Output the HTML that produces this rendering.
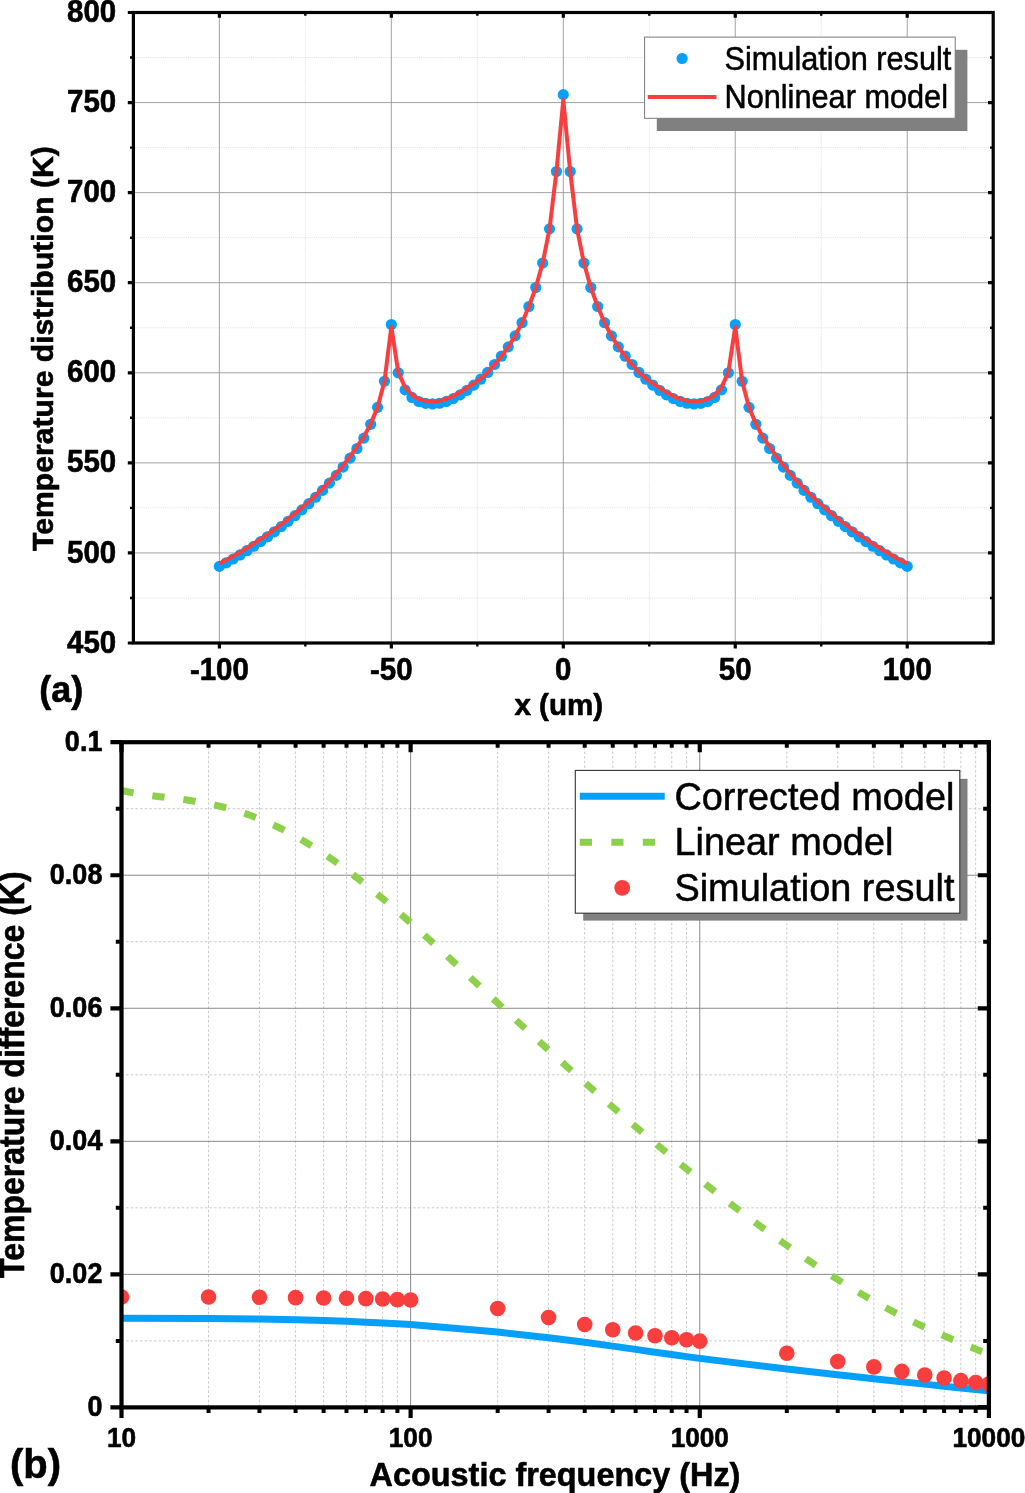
<!DOCTYPE html>
<html lang="en">
<head>
<meta charset="utf-8">
<title>Temperature distribution and temperature difference</title>
<style>html,body{margin:0;padding:0;background:#fff}svg{display:block}</style>
</head>
<body>
<svg width="1025" height="1493" viewBox="0 0 1025 1493" font-family='"Liberation Sans", Arial, Helvetica, sans-serif'>
<rect width="1025" height="1493" fill="#fff"/>
<g id="chart-a">
<path d="M305.36 12.5V643M477.32 12.5V643M649.28 12.5V643M821.24 12.5V643M133.4 597.96H993.2M133.4 507.89H993.2M133.4 417.82H993.2M133.4 327.75H993.2M133.4 237.68H993.2M133.4 147.61H993.2M133.4 57.54H993.2" stroke="#dedede" stroke-width="0.9" stroke-dasharray="1.1 1" fill="none"/>
<path d="M219.38 12.5V643M391.34 12.5V643M563.3 12.5V643M735.26 12.5V643M907.22 12.5V643M133.4 552.93H993.2M133.4 462.86H993.2M133.4 372.79H993.2M133.4 282.71H993.2M133.4 192.64H993.2M133.4 102.57H993.2" stroke="#989898" stroke-width="0.9" fill="none"/>
<g fill="#05a0fa"><circle cx="219.38" cy="566.41" r="5.6"/><circle cx="226.26" cy="562.83" r="5.6"/><circle cx="233.14" cy="558.99" r="5.6"/><circle cx="240.02" cy="554.94" r="5.6"/><circle cx="246.89" cy="550.67" r="5.6"/><circle cx="253.77" cy="546.23" r="5.6"/><circle cx="260.65" cy="541.6" r="5.6"/><circle cx="267.53" cy="536.8" r="5.6"/><circle cx="274.41" cy="531.82" r="5.6"/><circle cx="281.29" cy="526.65" r="5.6"/><circle cx="288.16" cy="521.28" r="5.6"/><circle cx="295.04" cy="515.69" r="5.6"/><circle cx="301.92" cy="509.84" r="5.6"/><circle cx="308.8" cy="503.71" r="5.6"/><circle cx="315.68" cy="497.25" r="5.6"/><circle cx="322.56" cy="490.41" r="5.6"/><circle cx="329.43" cy="483.14" r="5.6"/><circle cx="336.31" cy="475.39" r="5.6"/><circle cx="343.19" cy="467.08" r="5.6"/><circle cx="350.07" cy="458.15" r="5.6"/><circle cx="356.95" cy="448.52" r="5.6"/><circle cx="363.83" cy="438.1" r="5.6"/><circle cx="370.7" cy="424.31" r="5.6"/><circle cx="377.58" cy="407.37" r="5.6"/><circle cx="384.46" cy="381.25" r="5.6"/><circle cx="391.34" cy="324.51" r="5.6"/><circle cx="398.22" cy="372.79" r="5.6"/><circle cx="405.1" cy="389.9" r="5.6"/><circle cx="411.98" cy="397.47" r="5.6"/><circle cx="418.85" cy="401.5" r="5.6"/><circle cx="425.73" cy="403.4" r="5.6"/><circle cx="432.61" cy="403.96" r="5.6"/><circle cx="439.49" cy="403.27" r="5.6"/><circle cx="446.37" cy="401.46" r="5.6"/><circle cx="453.25" cy="398.62" r="5.6"/><circle cx="460.12" cy="394.87" r="5.6"/><circle cx="467" cy="390.32" r="5.6"/><circle cx="473.88" cy="385.06" r="5.6"/><circle cx="480.76" cy="379.22" r="5.6"/><circle cx="487.64" cy="372.43" r="5.6"/><circle cx="494.52" cy="364.5" r="5.6"/><circle cx="501.39" cy="356.21" r="5.6"/><circle cx="508.27" cy="346.85" r="5.6"/><circle cx="515.15" cy="335.86" r="5.6"/><circle cx="522.03" cy="322.71" r="5.6"/><circle cx="528.91" cy="306.49" r="5.6"/><circle cx="535.79" cy="287.58" r="5.6"/><circle cx="542.66" cy="263.08" r="5.6"/><circle cx="549.54" cy="228.85" r="5.6"/><circle cx="556.42" cy="171.57" r="5.6"/><circle cx="563.3" cy="94.65" r="5.6"/><circle cx="570.18" cy="171.57" r="5.6"/><circle cx="577.06" cy="228.85" r="5.6"/><circle cx="583.94" cy="263.08" r="5.6"/><circle cx="590.81" cy="287.58" r="5.6"/><circle cx="597.69" cy="306.49" r="5.6"/><circle cx="604.57" cy="322.71" r="5.6"/><circle cx="611.45" cy="335.86" r="5.6"/><circle cx="618.33" cy="346.85" r="5.6"/><circle cx="625.21" cy="356.21" r="5.6"/><circle cx="632.08" cy="364.5" r="5.6"/><circle cx="638.96" cy="372.43" r="5.6"/><circle cx="645.84" cy="379.22" r="5.6"/><circle cx="652.72" cy="385.06" r="5.6"/><circle cx="659.6" cy="390.32" r="5.6"/><circle cx="666.48" cy="394.87" r="5.6"/><circle cx="673.35" cy="398.62" r="5.6"/><circle cx="680.23" cy="401.46" r="5.6"/><circle cx="687.11" cy="403.27" r="5.6"/><circle cx="693.99" cy="403.96" r="5.6"/><circle cx="700.87" cy="403.4" r="5.6"/><circle cx="707.75" cy="401.5" r="5.6"/><circle cx="714.62" cy="397.47" r="5.6"/><circle cx="721.5" cy="389.9" r="5.6"/><circle cx="728.38" cy="372.79" r="5.6"/><circle cx="735.26" cy="324.51" r="5.6"/><circle cx="742.14" cy="381.25" r="5.6"/><circle cx="749.02" cy="407.37" r="5.6"/><circle cx="755.9" cy="424.31" r="5.6"/><circle cx="762.77" cy="438.1" r="5.6"/><circle cx="769.65" cy="448.52" r="5.6"/><circle cx="776.53" cy="458.15" r="5.6"/><circle cx="783.41" cy="467.08" r="5.6"/><circle cx="790.29" cy="475.39" r="5.6"/><circle cx="797.17" cy="483.14" r="5.6"/><circle cx="804.04" cy="490.41" r="5.6"/><circle cx="810.92" cy="497.25" r="5.6"/><circle cx="817.8" cy="503.71" r="5.6"/><circle cx="824.68" cy="509.84" r="5.6"/><circle cx="831.56" cy="515.69" r="5.6"/><circle cx="838.44" cy="521.28" r="5.6"/><circle cx="845.31" cy="526.65" r="5.6"/><circle cx="852.19" cy="531.82" r="5.6"/><circle cx="859.07" cy="536.8" r="5.6"/><circle cx="865.95" cy="541.6" r="5.6"/><circle cx="872.83" cy="546.23" r="5.6"/><circle cx="879.71" cy="550.67" r="5.6"/><circle cx="886.58" cy="554.94" r="5.6"/><circle cx="893.46" cy="558.99" r="5.6"/><circle cx="900.34" cy="562.83" r="5.6"/><circle cx="907.22" cy="566.41" r="5.6"/></g>
<polyline fill="none" stroke="#f93e3e" stroke-width="4" stroke-linejoin="round" points="219.38,563.52 226.26,560 233.14,556.22 240.02,552.22 246.89,548.01 253.77,543.61 260.65,539.04 267.53,534.3 274.41,529.37 281.29,524.26 288.16,518.94 295.04,513.4 301.92,507.61 308.8,501.53 315.68,495.12 322.56,488.34 329.43,481.12 336.31,473.43 343.19,465.18 350.07,456.3 356.95,446.72 363.83,436.9 370.7,423.71 377.58,407.37 384.46,381.25 391.34,326.67 398.22,372.07 405.1,387.38 411.98,394.94 418.85,398.98 425.73,400.88 432.61,401.43 439.49,400.75 446.37,398.93 453.25,396.1 460.12,392.35 467,387.79 473.88,383.38 480.76,378.38 487.64,372.43 494.52,364.5 501.39,356.21 508.27,346.85 515.15,335.86 522.03,322.71 528.91,306.49 535.79,287.58 542.66,263.08 549.54,228.85 556.42,171.57 563.3,99.87 570.18,171.57 577.06,228.85 583.94,263.08 590.81,287.58 597.69,306.49 604.57,322.71 611.45,335.86 618.33,346.85 625.21,356.21 632.08,364.5 638.96,372.43 645.84,378.38 652.72,383.38 659.6,387.79 666.48,392.35 673.35,396.1 680.23,398.93 687.11,400.75 693.99,401.43 700.87,400.88 707.75,398.98 714.62,394.94 721.5,387.38 728.38,372.07 735.26,326.67 742.14,381.25 749.02,407.37 755.9,423.71 762.77,436.9 769.65,446.72 776.53,456.3 783.41,465.18 790.29,473.43 797.17,481.12 804.04,488.34 810.92,495.12 817.8,501.53 824.68,507.61 831.56,513.4 838.44,518.94 845.31,524.26 852.19,529.37 859.07,534.3 865.95,539.04 872.83,543.61 879.71,548.01 886.58,552.22 893.46,556.22 900.34,560 907.22,563.52"/>
<path d="M127.8 643H133.4M993.2 643H988M127.8 552.93H133.4M993.2 552.93H988M127.8 462.86H133.4M993.2 462.86H988M127.8 372.79H133.4M993.2 372.79H988M127.8 282.71H133.4M993.2 282.71H988M127.8 192.64H133.4M993.2 192.64H988M127.8 102.57H133.4M993.2 102.57H988M127.8 12.5H133.4M993.2 12.5H988M219.38 643V648.6M219.38 12.5V17.7M391.34 643V648.6M391.34 12.5V17.7M563.3 643V648.6M563.3 12.5V17.7M735.26 643V648.6M735.26 12.5V17.7M907.22 643V648.6M907.22 12.5V17.7" stroke="#000" stroke-width="3.2" fill="none"/>
<path d="M130 597.96H133.4M993.2 597.96H990M130 507.89H133.4M993.2 507.89H990M130 417.82H133.4M993.2 417.82H990M130 327.75H133.4M993.2 327.75H990M130 237.68H133.4M993.2 237.68H990M130 147.61H133.4M993.2 147.61H990M130 57.54H133.4M993.2 57.54H990M305.36 643V646.4M305.36 12.5V15.7M477.32 643V646.4M477.32 12.5V15.7M649.28 643V646.4M649.28 12.5V15.7M821.24 643V646.4M821.24 12.5V15.7" stroke="#000" stroke-width="2.4" fill="none"/>
<rect x="133.4" y="12.5" width="859.8" height="630.5" fill="none" stroke="#000" stroke-width="3.2"/>
<text transform="translate(116.2 652.6) scale(1 1.08)" font-size="29.5" text-anchor="end" font-weight="bold" stroke="#000" stroke-width="0.6" stroke-linejoin="round">450</text>
<text transform="translate(116.2 562.53) scale(1 1.08)" font-size="29.5" text-anchor="end" font-weight="bold" stroke="#000" stroke-width="0.6" stroke-linejoin="round">500</text>
<text transform="translate(116.2 472.46) scale(1 1.08)" font-size="29.5" text-anchor="end" font-weight="bold" stroke="#000" stroke-width="0.6" stroke-linejoin="round">550</text>
<text transform="translate(116.2 382.39) scale(1 1.08)" font-size="29.5" text-anchor="end" font-weight="bold" stroke="#000" stroke-width="0.6" stroke-linejoin="round">600</text>
<text transform="translate(116.2 292.31) scale(1 1.08)" font-size="29.5" text-anchor="end" font-weight="bold" stroke="#000" stroke-width="0.6" stroke-linejoin="round">650</text>
<text transform="translate(116.2 202.24) scale(1 1.08)" font-size="29.5" text-anchor="end" font-weight="bold" stroke="#000" stroke-width="0.6" stroke-linejoin="round">700</text>
<text transform="translate(116.2 112.17) scale(1 1.08)" font-size="29.5" text-anchor="end" font-weight="bold" stroke="#000" stroke-width="0.6" stroke-linejoin="round">750</text>
<text transform="translate(116.2 22.1) scale(1 1.08)" font-size="29.5" text-anchor="end" font-weight="bold" stroke="#000" stroke-width="0.6" stroke-linejoin="round">800</text>
<text transform="translate(219.38 679.9) scale(1 1.08)" font-size="29.5" text-anchor="middle" font-weight="bold" stroke="#000" stroke-width="0.6" stroke-linejoin="round">-100</text>
<text transform="translate(391.34 679.9) scale(1 1.08)" font-size="29.5" text-anchor="middle" font-weight="bold" stroke="#000" stroke-width="0.6" stroke-linejoin="round">-50</text>
<text transform="translate(563.3 679.9) scale(1 1.08)" font-size="29.5" text-anchor="middle" font-weight="bold" stroke="#000" stroke-width="0.6" stroke-linejoin="round">0</text>
<text transform="translate(735.26 679.9) scale(1 1.08)" font-size="29.5" text-anchor="middle" font-weight="bold" stroke="#000" stroke-width="0.6" stroke-linejoin="round">50</text>
<text transform="translate(907.22 679.9) scale(1 1.08)" font-size="29.5" text-anchor="middle" font-weight="bold" stroke="#000" stroke-width="0.6" stroke-linejoin="round">100</text>
<text transform="translate(558.8 714.6) scale(1 1.0)" font-size="29.6" text-anchor="middle" font-weight="bold" stroke="#000" stroke-width="0.6" stroke-linejoin="round">x (um)</text>
<text transform="translate(53 348.6) rotate(-90) scale(1 0.98)" font-size="30.15" text-anchor="middle" font-weight="bold" stroke="#000" stroke-width="0.6" stroke-linejoin="round">Temperature distribution (K)</text>
<text transform="translate(39.3 702.3) scale(1 1.05)" font-size="36" font-weight="bold" stroke="#000" stroke-width="0.6" stroke-linejoin="round">(a)</text>
<rect x="656.8" y="49.8" width="310.6" height="81.2" fill="#808080"/>
<rect x="644.6" y="37.1" width="310.6" height="81.2" fill="#fff" stroke="#7a7a7a" stroke-width="1"/>
<circle cx="682.1" cy="58.5" r="5.6" fill="#05a0fa"/>
<path d="M647.8 97H716.5" stroke="#f93e3e" stroke-width="4"/>
<text transform="translate(724.5 69.9) scale(1 1.07)" font-size="30.7" stroke="#000" stroke-width="0.5" stroke-linejoin="round">Simulation result</text>
<text transform="translate(724.5 108.1) scale(1 1.07)" font-size="30.7" stroke="#000" stroke-width="0.5" stroke-linejoin="round">Nonlinear model</text>
</g>
<g id="chart-b">
<path d="M208.54 742.2V1407.4M259.45 742.2V1407.4M295.58 742.2V1407.4M323.6 742.2V1407.4M346.49 742.2V1407.4M365.85 742.2V1407.4M382.61 742.2V1407.4M397.4 742.2V1407.4M497.67 742.2V1407.4M548.58 742.2V1407.4M584.71 742.2V1407.4M612.73 742.2V1407.4M635.62 742.2V1407.4M654.98 742.2V1407.4M671.75 742.2V1407.4M686.54 742.2V1407.4M786.8 742.2V1407.4M837.72 742.2V1407.4M873.84 742.2V1407.4M901.86 742.2V1407.4M924.76 742.2V1407.4M944.11 742.2V1407.4M960.88 742.2V1407.4M975.67 742.2V1407.4M121.5 1340.88H988.9M121.5 1207.84H988.9M121.5 1074.8H988.9M121.5 941.76H988.9M121.5 808.72H988.9" stroke="#cbcbcb" stroke-width="1" stroke-dasharray="2.6 2.03" fill="none"/>
<path d="M410.63 742.2V1407.4M699.77 742.2V1407.4M121.5 1274.36H988.9M121.5 1141.32H988.9M121.5 1008.28H988.9M121.5 875.24H988.9" stroke="#8a8a8a" stroke-width="1" fill="none"/>
<clipPath id="clipb"><rect x="121.5" y="742.2" width="867.4" height="665.2"/></clipPath>
<g clip-path="url(#clipb)">
<polyline fill="none" stroke="#8dd04c" stroke-width="7" stroke-dasharray="12.3 18.98" points="121.5,790.46 128.79,792.03 136.08,793.28 143.37,794.4 150.66,795.43 157.95,796.43 165.23,797.38 172.52,798.23 179.81,799.1 187.1,800.07 194.39,801.19 201.68,802.44 208.97,803.82 216.26,805.36 223.55,807.07 230.84,809.03 238.13,811.23 245.41,813.62 252.7,816.19 259.99,819.05 267.28,822.17 274.57,825.5 281.86,829 289.15,832.77 296.44,836.81 303.73,841.03 311.02,845.44 318.31,850.09 325.59,854.94 332.88,859.95 340.17,865.15 347.46,870.55 354.75,876.09 362.04,881.76 369.33,887.59 376.62,893.56 383.91,899.63 391.2,905.82 398.48,912.12 405.77,918.49 413.06,924.95 420.35,931.49 427.64,938.08 434.93,944.73 442.22,951.43 449.51,958.15 456.8,964.91 464.09,971.7 471.38,978.5 478.66,985.3 485.95,992.11 493.24,998.92 500.53,1005.72 507.82,1012.51 515.11,1019.28 522.4,1026.03 529.69,1032.76 536.98,1039.47 544.27,1046.14 551.56,1052.79 558.84,1059.4 566.13,1065.98 573.42,1072.52 580.71,1079.02 588,1085.48 595.29,1091.91 602.58,1098.3 609.87,1104.64 617.16,1110.95 624.45,1117.21 631.74,1123.44 639.02,1129.62 646.31,1135.77 653.6,1141.87 660.89,1147.93 668.18,1153.95 675.47,1159.93 682.76,1165.87 690.05,1171.77 697.34,1177.62 704.63,1183.43 711.92,1189.19 719.2,1194.91 726.49,1200.58 733.78,1206.2 741.07,1211.77 748.36,1217.29 755.65,1222.75 762.94,1228.16 770.23,1233.5 777.52,1238.79 784.81,1244 792.09,1249.14 799.38,1254.22 806.67,1259.22 813.96,1264.13 821.25,1268.97 828.54,1273.73 835.83,1278.38 843.12,1282.95 850.41,1287.42 857.7,1291.8 864.99,1296.07 872.27,1300.24 879.56,1304.31 886.85,1308.28 894.14,1312.12 901.43,1315.87 908.72,1319.52 916.01,1323.07 923.3,1326.52 930.59,1329.86 937.88,1333.13 945.17,1336.32 952.45,1339.45 959.74,1342.51 967.03,1345.51 974.32,1348.5 981.61,1351.49 988.9,1354.45"/>
<polyline fill="none" stroke="#05a0fa" stroke-width="7" stroke-linejoin="round" points="121.5,1318.2 208.54,1318.4 259.45,1319.02 295.58,1319.85 323.6,1320.59 346.49,1321.34 365.85,1322.15 382.61,1322.96 397.4,1323.75 410.63,1324.52 497.67,1332.1 548.58,1337.82 584.71,1342.34 612.73,1346.1 635.62,1349.37 654.98,1352.17 671.75,1354.57 686.54,1356.62 699.77,1358.37 786.8,1368.95 837.72,1374.71 873.84,1378.66 901.86,1381.68 924.76,1384.12 944.11,1386.15 960.88,1387.9 975.67,1389.42 988.9,1390.77"/>
<g fill="#f93e3e"><circle cx="121.5" cy="1296.98" r="7.8"/><circle cx="208.54" cy="1296.98" r="7.8"/><circle cx="259.45" cy="1297.31" r="7.8"/><circle cx="295.58" cy="1297.64" r="7.8"/><circle cx="323.6" cy="1297.97" r="7.8"/><circle cx="346.49" cy="1298.31" r="7.8"/><circle cx="365.85" cy="1298.64" r="7.8"/><circle cx="382.61" cy="1298.97" r="7.8"/><circle cx="397.4" cy="1299.64" r="7.8"/><circle cx="410.63" cy="1299.97" r="7.8"/><circle cx="497.67" cy="1308.48" r="7.8"/><circle cx="548.58" cy="1317.6" r="7.8"/><circle cx="584.71" cy="1324.52" r="7.8"/><circle cx="612.73" cy="1329.7" r="7.8"/><circle cx="635.62" cy="1332.96" r="7.8"/><circle cx="654.98" cy="1335.69" r="7.8"/><circle cx="671.75" cy="1337.82" r="7.8"/><circle cx="686.54" cy="1339.68" r="7.8"/><circle cx="699.77" cy="1341.15" r="7.8"/><circle cx="786.8" cy="1353.25" r="7.8"/><circle cx="837.72" cy="1361.43" r="7.8"/><circle cx="873.84" cy="1366.89" r="7.8"/><circle cx="901.86" cy="1371.41" r="7.8"/><circle cx="924.76" cy="1375" r="7.8"/><circle cx="944.11" cy="1378.06" r="7.8"/><circle cx="960.88" cy="1380.66" r="7.8"/><circle cx="975.67" cy="1382.59" r="7.8"/><circle cx="988.9" cy="1384.12" r="7.8"/></g>
</g>
<path d="M110.4 1407.4H121.5M988.9 1407.4H977.8M110.4 1274.36H121.5M988.9 1274.36H977.8M110.4 1141.32H121.5M988.9 1141.32H977.8M110.4 1008.28H121.5M988.9 1008.28H977.8M110.4 875.24H121.5M988.9 875.24H977.8M110.4 742.2H121.5M988.9 742.2H977.8M121.5 1407.4V1418.1M121.5 742.2V752.3M410.63 1407.4V1418.1M410.63 742.2V752.3M699.77 1407.4V1418.1M699.77 742.2V752.3M988.9 1407.4V1418.1M988.9 742.2V752.3" stroke="#000" stroke-width="4.2" fill="none"/>
<path d="M115.8 1340.88H121.5M988.9 1340.88H983.2M115.8 1207.84H121.5M988.9 1207.84H983.2M115.8 1074.8H121.5M988.9 1074.8H983.2M115.8 941.76H121.5M988.9 941.76H983.2M115.8 808.72H121.5M988.9 808.72H983.2M208.54 1407.4V1412.9M208.54 742.2V747.7M259.45 1407.4V1412.9M259.45 742.2V747.7M295.58 1407.4V1412.9M295.58 742.2V747.7M323.6 1407.4V1412.9M323.6 742.2V747.7M346.49 1407.4V1412.9M346.49 742.2V747.7M365.85 1407.4V1412.9M365.85 742.2V747.7M382.61 1407.4V1412.9M382.61 742.2V747.7M397.4 1407.4V1412.9M397.4 742.2V747.7M497.67 1407.4V1412.9M497.67 742.2V747.7M548.58 1407.4V1412.9M548.58 742.2V747.7M584.71 1407.4V1412.9M584.71 742.2V747.7M612.73 1407.4V1412.9M612.73 742.2V747.7M635.62 1407.4V1412.9M635.62 742.2V747.7M654.98 1407.4V1412.9M654.98 742.2V747.7M671.75 1407.4V1412.9M671.75 742.2V747.7M686.54 1407.4V1412.9M686.54 742.2V747.7M786.8 1407.4V1412.9M786.8 742.2V747.7M837.72 1407.4V1412.9M837.72 742.2V747.7M873.84 1407.4V1412.9M873.84 742.2V747.7M901.86 1407.4V1412.9M901.86 742.2V747.7M924.76 1407.4V1412.9M924.76 742.2V747.7M944.11 1407.4V1412.9M944.11 742.2V747.7M960.88 1407.4V1412.9M960.88 742.2V747.7M975.67 1407.4V1412.9M975.67 742.2V747.7" stroke="#000" stroke-width="4" fill="none"/>
<rect x="121.5" y="742.2" width="867.4" height="665.2" fill="none" stroke="#000" stroke-width="4.2"/>
<text transform="translate(102.4 1416) scale(1 1.08)" font-size="27.0" text-anchor="end" font-weight="bold" stroke="#000" stroke-width="0.6" stroke-linejoin="round">0</text>
<text transform="translate(102.4 1282.96) scale(1 1.08)" font-size="27.0" text-anchor="end" font-weight="bold" stroke="#000" stroke-width="0.6" stroke-linejoin="round">0.02</text>
<text transform="translate(102.4 1149.92) scale(1 1.08)" font-size="27.0" text-anchor="end" font-weight="bold" stroke="#000" stroke-width="0.6" stroke-linejoin="round">0.04</text>
<text transform="translate(102.4 1016.88) scale(1 1.08)" font-size="27.0" text-anchor="end" font-weight="bold" stroke="#000" stroke-width="0.6" stroke-linejoin="round">0.06</text>
<text transform="translate(102.4 883.84) scale(1 1.08)" font-size="27.0" text-anchor="end" font-weight="bold" stroke="#000" stroke-width="0.6" stroke-linejoin="round">0.08</text>
<text transform="translate(102.4 750.8) scale(1 1.08)" font-size="27.0" text-anchor="end" font-weight="bold" stroke="#000" stroke-width="0.6" stroke-linejoin="round">0.1</text>
<text transform="translate(121.5 1447.1) scale(1 1.08)" font-size="26.2" text-anchor="middle" font-weight="bold" stroke="#000" stroke-width="0.6" stroke-linejoin="round">10</text>
<text transform="translate(410.63 1447.1) scale(1 1.08)" font-size="26.2" text-anchor="middle" font-weight="bold" stroke="#000" stroke-width="0.6" stroke-linejoin="round">100</text>
<text transform="translate(699.77 1447.1) scale(1 1.08)" font-size="26.2" text-anchor="middle" font-weight="bold" stroke="#000" stroke-width="0.6" stroke-linejoin="round">1000</text>
<text transform="translate(988.9 1447.1) scale(1 1.08)" font-size="26.2" text-anchor="middle" font-weight="bold" stroke="#000" stroke-width="0.6" stroke-linejoin="round">10000</text>
<text transform="translate(555 1486.4) scale(1 1.04)" font-size="32.4" text-anchor="middle" font-weight="bold" stroke="#000" stroke-width="0.6" stroke-linejoin="round">Acoustic frequency (Hz)</text>
<text transform="translate(23.8 1074.7) rotate(-90) scale(1 1.08)" font-size="32.0" text-anchor="middle" font-weight="bold" stroke="#000" stroke-width="0.6" stroke-linejoin="round">Temperature difference (K)</text>
<text transform="translate(10 1478) scale(1 1.008)" font-size="40" font-weight="bold" stroke="#000" stroke-width="0.6" stroke-linejoin="round">(b)</text>
<rect x="583.2" y="778.8" width="384.3" height="141.8" fill="#808080"/>
<rect x="575.3" y="770.4" width="384.5" height="142.8" fill="#fff" stroke="#333" stroke-width="1.1"/>
<path d="M579.8 796.3H664.7" stroke="#05a0fa" stroke-width="7"/>
<path d="M579.8 842.3H664.7" stroke="#8dd04c" stroke-width="7" stroke-dasharray="12.2 19.3"/>
<circle cx="622.2" cy="887.8" r="7.9" fill="#f93e3e"/>
<text transform="translate(674.4 809.5) scale(1 1.012)" font-size="37.9" stroke="#000" stroke-width="0.5" stroke-linejoin="round">Corrected model</text>
<text transform="translate(674.4 855) scale(1 1.012)" font-size="37.9" stroke="#000" stroke-width="0.5" stroke-linejoin="round">Linear model</text>
<text transform="translate(674.4 900.7) scale(1 1.012)" font-size="37.9" stroke="#000" stroke-width="0.5" stroke-linejoin="round">Simulation result</text>
</g>
</svg>
</body>
</html>
